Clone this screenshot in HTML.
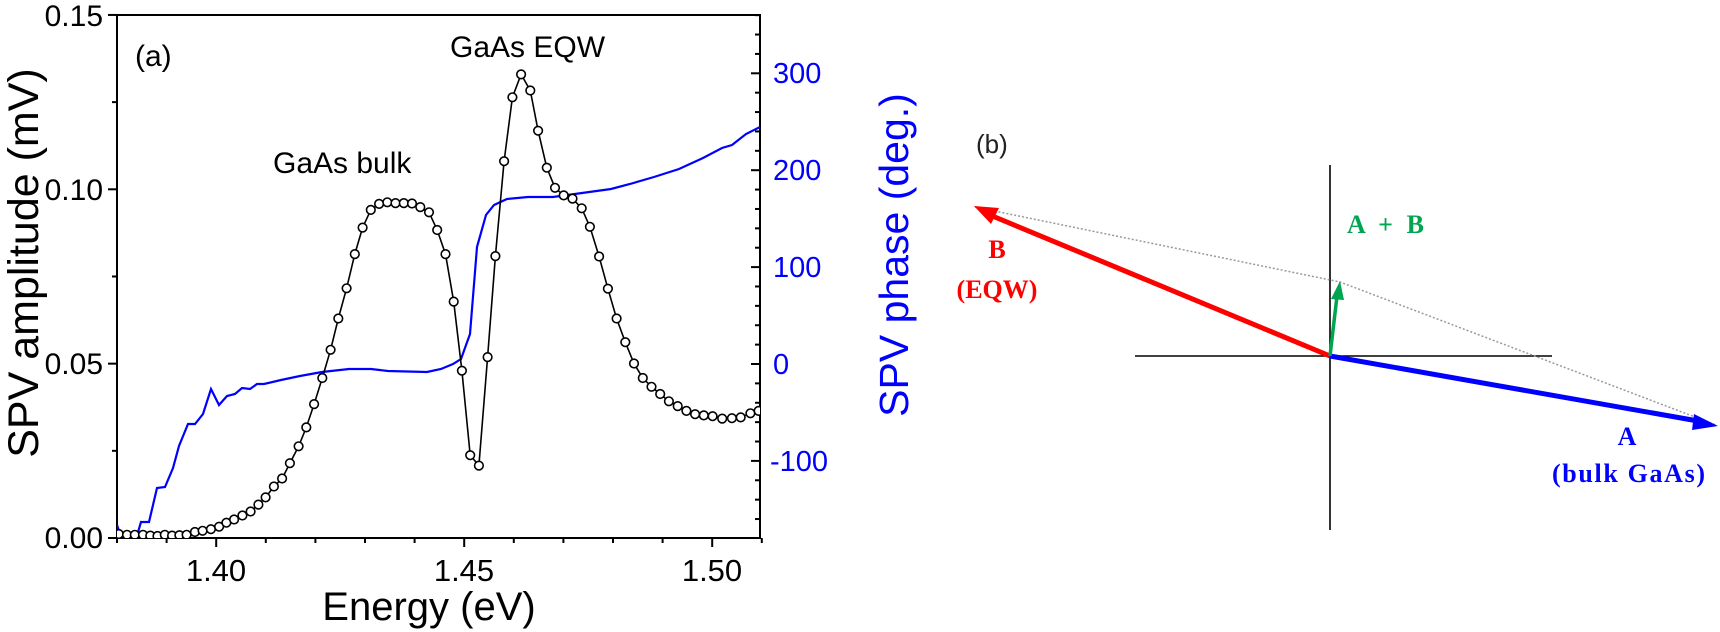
<!DOCTYPE html>
<html><head><meta charset="utf-8"><style>
html,body{margin:0;padding:0;background:#fff;width:1720px;height:632px;overflow:hidden}
svg{display:block}
text{font-family:"Liberation Sans",sans-serif}
.ser{font-family:"Liberation Serif",serif;font-weight:bold}
</style></head><body>
<svg id="s" width="1720" height="632" viewBox="0 0 1720 632" xmlns="http://www.w3.org/2000/svg">
<defs>
<clipPath id="c"><rect x="117" y="15" width="643" height="523"/></clipPath>
</defs>
<g id="ticks" stroke="#000" stroke-width="2"></g>
<rect x="117" y="15" width="643" height="523" fill="none" stroke="#000" stroke-width="2"/>
<g clip-path="url(#c)">
<polyline id="blue" fill="none" stroke="#0000ff" stroke-width="2.2" points=""/>
<polyline id="blk" fill="none" stroke="#000" stroke-width="1.6" points=""/>
<g id="circ" fill="#fff" stroke="#000" stroke-width="1.6"></g>
</g>
<g font-size="30" text-anchor="end">
<text x="103" y="548">0.00</text>
<text x="103" y="374">0.05</text>
<text x="103" y="200">0.10</text>
<text x="103" y="26">0.15</text>
</g>
<g font-size="31" text-anchor="middle">
<text x="216" y="581">1.40</text>
<text x="464" y="581">1.45</text>
<text x="712" y="581">1.50</text>
</g>
<g font-size="29" fill="#0000ff" text-anchor="start">
<text x="773" y="83">300</text>
<text x="773" y="180">200</text>
<text x="773" y="277">100</text>
<text x="773" y="374">0</text>
<text x="770" y="471">-100</text>
</g>
<text x="429" y="620" font-size="40" text-anchor="middle">Energy (eV)</text>
<text transform="translate(38,263) rotate(-90)" font-size="43" text-anchor="middle">SPV amplitude (mV)</text>
<text transform="translate(908,255) rotate(-90)" font-size="41" fill="#0000ff" text-anchor="middle">SPV phase (deg.)</text>
<text x="135" y="66" font-size="30">(a)</text>
<text x="450" y="57" font-size="30">GaAs EQW</text>
<text x="273" y="173" font-size="30">GaAs bulk</text>

<text x="976" y="153" font-size="26" fill="#222">(b)</text>
<line x1="1330" y1="165" x2="1330" y2="530" stroke="#000" stroke-width="1.6"/>
<line x1="1135" y1="356" x2="1552" y2="356" stroke="#000" stroke-width="1.6"/>
<polyline points="975,207 1340,282 1716,425" fill="none" stroke="#999" stroke-width="1.5" stroke-dasharray="2,2"/>
<line x1="1330" y1="356" x2="990" y2="215" stroke="#ff0000" stroke-width="5"/>
<polygon points="974,206 999,208 991,224" fill="#ff0000"/>
<line x1="1330" y1="356" x2="1698" y2="421" stroke="#0000ff" stroke-width="5"/>
<polygon points="1718,426 1694,414 1692,430" fill="#0000ff"/>
<line x1="1330" y1="356" x2="1337" y2="296" stroke="#00a550" stroke-width="3.5"/>
<polygon points="1340,281 1331,299 1344,300" fill="#00a550"/>
<text class="ser" x="1347" y="233" font-size="26" fill="#00a550" textLength="77">A + B</text>
<text class="ser" x="997" y="258" font-size="26" fill="#ff0000" text-anchor="middle">B</text>
<text class="ser" x="997" y="298" font-size="26" fill="#ff0000" text-anchor="middle">(EQW)</text>
<text class="ser" x="1627" y="445" font-size="26" fill="#0000ff" text-anchor="middle">A</text>
<text class="ser" x="1552" y="482" font-size="26" fill="#0000ff" textLength="153">(bulk GaAs)</text>
</svg>
<script>
var ns="http://www.w3.org/2000/svg";
var z=[[245,1328],[262,1330],[278,1330],[295,1330],[310,1332],[325,1333],[340,1330],[355,1332],[370,1331],[385,1330],[402,1323],[418,1320],[435,1316],[452,1310],[467,1300],[483,1292],[500,1282],[517,1272],[533,1255],[548,1237],[565,1210],[582,1190],[598,1152],[616,1110],[632,1063],[648,1005],[665,940],[682,870],[698,792],[715,717],[732,632],[748,566],[765,522],[782,507],[799,503],[816,505],[833,505],[850,506],[867,515],[885,528],[902,572],[919,632],[936,750],[953,922],[970,1132],[988,1158],[1006,888],[1022,637],[1040,401],[1057,242],[1075,185],[1094,225],[1110,325],[1128,417],[1145,467],[1163,486],[1181,494],[1200,518],[1217,564],[1236,638],[1254,718],[1272,792],[1290,851],[1308,904],[1326,940],[1344,962],[1362,980],[1380,998],[1398,1010],[1416,1022],[1434,1030],[1452,1033],[1470,1035],[1490,1041],[1510,1040],[1528,1038],[1548,1028],[1565,1022]];
var pts=[],cg=document.getElementById('circ');
z.forEach(function(p){var x=(p[0]/2.063).toFixed(1),y=(p[1]/2.487).toFixed(1);pts.push(x+','+y);
var c=document.createElementNS(ns,'circle');c.setAttribute('cx',x);c.setAttribute('cy',y);c.setAttribute('r','4.3');cg.appendChild(c);});
document.getElementById('blk').setAttribute('points',pts.join(' '));
var b=[[117,525],[123,542],[135,542],[136,539],[141,522],[149,522],[157,488],[165,487],[173,468],[179,446],[188,424],[195,424],[203,414],[211,389],[219,405],[227,396],[235,394],[242,388],[250,389],[257,384],[264,384],[281,380],[300,376],[322,372],[349,369],[371,369],[388,371],[427,372],[441,369],[453,364],[461,359],[470,334],[477,247],[486,215],[494,205],[507,199],[528,197],[553,197],[582,193],[611,189],[630,184],[654,177],[679,169],[703,158],[722,148],[732,145],[746,134],[762,126]];
document.getElementById('blue').setAttribute('points',b.map(function(p){return p.join(',')}).join(' '));
var t=document.getElementById('ticks');
function L(x1,y1,x2,y2){var l=document.createElementNS(ns,'line');l.setAttribute('x1',x1);l.setAttribute('y1',y1);l.setAttribute('x2',x2);l.setAttribute('y2',y2);t.appendChild(l);}
for(var i=0;i<=13;i++){var x=117+i*0.01*4960;var maj=(i==2||i==7||i==12);L(x,538,x,538+(maj?9:5));}
for(var i=0;i<=6;i++){var y=538-i*0.025*3487;L(117,y,117-(i%2==0?9:5),y);}
for(var d=-180;d<=360;d+=20){var y=364-d*0.969;if(y<15||y>538)continue;var maj=(d%100==0);L(760,y,760-(maj?9:5),y);}
</script>
</body></html>
